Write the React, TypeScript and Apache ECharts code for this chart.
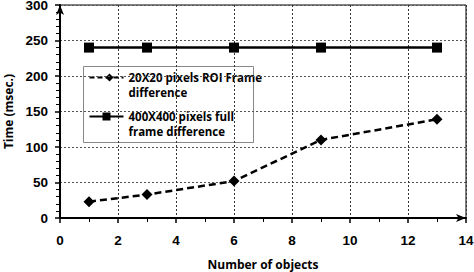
import React, { useEffect, useRef } from "react";
import * as echarts from "echarts";

const xValues = [1, 3, 6, 9, 13];
const roiValues = [23, 33, 52, 110, 139];
const fullValues = [240, 240, 240, 240, 240];
const roiName = "20X20 pixels ROI Frame\ndifference";
const fullName = "400X400 pixels full\nframe difference";
const xAxisName = "Number of objects";
const yAxisName = "Time (msec.)";

export default function App() {
  const ref = useRef<HTMLDivElement>(null);
  useEffect(() => {
    if (!ref.current) return;
    const chart = echarts.init(ref.current, null, { renderer: "svg" });
    const font = "Liberation Sans";
    const legendFont = "Open Sans";
    chart.setOption({
      animation: false,
      backgroundColor: "#fff",
      grid: {
        left: 60,
        right: 8,
        top: 5,
        bottom: 54,
        show: true,
        borderColor: "#000",
        borderWidth: 1,
        containLabel: false,
        outerBoundsMode: "none",
      },
      xAxis: {
        type: "value",
        min: 0,
        max: 14,
        interval: 2,
        name: xAxisName,
        nameLocation: "middle",
        nameGap: 40,
        nameTextStyle: { fontFamily: legendFont, fontWeight: "bold", fontSize: 12, color: "#000" },
        axisLine: { lineStyle: { color: "#000", width: 2 }, symbol: ["none", "arrow"], symbolSize: [6, 10] },
        axisTick: { show: true, length: 5, lineStyle: { color: "#000", width: 1.5 } },
        minorTick: { show: true, splitNumber: 2, length: 4, lineStyle: { color: "#000" } },
        axisLabel: { fontFamily: font, fontWeight: "bold", fontSize: 13.5, color: "#000", margin: 15 },
        splitLine: { show: true, lineStyle: { color: "#333", type: [2, 2], width: 1 } },
      },
      yAxis: {
        type: "value",
        min: 0,
        max: 300,
        interval: 50,
        name: yAxisName,
        nameLocation: "middle",
        nameGap: 44,
        nameTextStyle: { fontFamily: legendFont, fontWeight: "bold", fontSize: 12, color: "#000" },
        axisLine: { show: true, lineStyle: { color: "#000", width: 2 }, symbol: ["none", "arrow"], symbolSize: [6, 10] },
        axisTick: { show: true, length: 5, lineStyle: { color: "#000", width: 1.5 } },
        minorTick: { show: true, splitNumber: 5, length: 4, lineStyle: { color: "#000" } },
        axisLabel: { fontFamily: font, fontWeight: "bold", fontSize: 13.5, color: "#000", margin: 12 },
        splitLine: { show: true, lineStyle: { color: "#555", type: [2, 2], width: 1 } },
      },
      series: [
        {
          name: roiName,
          type: "line",
          data: xValues.map((x, i) => [x, roiValues[i]]),
          symbol: "diamond",
          symbolSize: 11,
          lineStyle: { color: "#000", width: 2.5, type: [7, 4] },
          itemStyle: { color: "#000" },
        },
        {
          name: fullName,
          type: "line",
          data: xValues.map((x, i) => [x, fullValues[i]]),
          symbol: "rect",
          symbolSize: 10,
          lineStyle: { color: "#000", width: 2.5 },
          itemStyle: { color: "#000" },
        },
      ],
      graphic: [
        {
          type: "group",
          left: 83,
          top: 66,
          children: [
            { type: "rect", shape: { x: 0, y: 0, width: 170, height: 76 }, style: { fill: "#fff", stroke: "#888", lineWidth: 1 } },
            { type: "line", shape: { x1: 6, y1: 11, x2: 40, y2: 11 }, style: { stroke: "#000", lineWidth: 2, lineDash: [5, 3] } },
            { type: "polygon", shape: { points: [[26, 7], [30, 11], [26, 15], [22, 11]] }, style: { fill: "#000" } },
            { type: "text", x: 45, y: 3, style: { text: roiName, fontFamily: legendFont, fontWeight: "bold", fontSize: 11.5, lineHeight: 15, fill: "#000" } },
            { type: "line", shape: { x1: 6, y1: 50, x2: 40, y2: 50 }, style: { stroke: "#000", lineWidth: 2 } },
            { type: "rect", shape: { x: 19, y: 46, width: 8, height: 8 }, style: { fill: "#000" } },
            { type: "text", x: 45, y: 42, style: { text: fullName, fontFamily: legendFont, fontWeight: "bold", fontSize: 11.5, lineHeight: 15, fill: "#000" } },
          ],
        },
      ],
    });
    return () => chart.dispose();
  }, []);
  return <div ref={ref} style={{ width: 474, height: 272, position: "absolute", left: 0, top: 0 }} />;
}
